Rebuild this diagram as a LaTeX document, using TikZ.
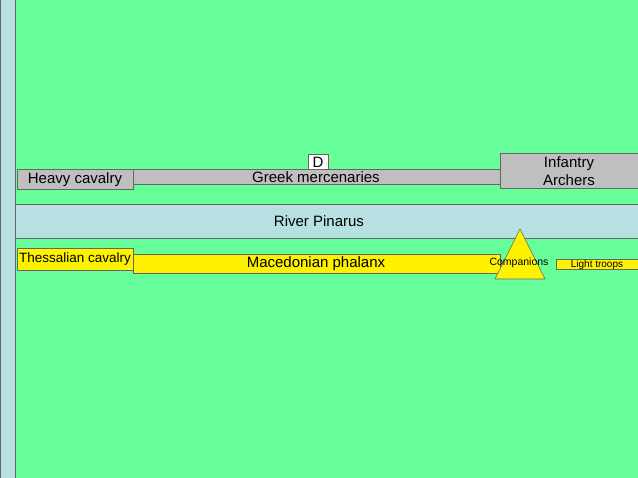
\documentclass[tikz,border=0pt]{standalone}
\usepackage{fontspec}
\setmainfont{Liberation Sans}
\begin{document}
\begin{tikzpicture}[x=1pt,y=-1pt,
  box/.style={draw=black!60,line width=0.6pt},
  gray/.style={box,fill=black!25},
  yel/.style={box,fill=yellow},
  lbl/.style={inner sep=0pt,font=\fontsize{15}{17}\selectfont}]
\fill[fill={rgb,255:red,102;green,255;blue,153}] (0,0) rectangle (638,478);
\useasboundingbox (0,0) rectangle (638,478);
\definecolor{river}{RGB}{183,224,226}
\draw[box,fill=river] (0,-1) rectangle (15,479);
\draw[box,fill=river] (15,204) rectangle (639,238);
\node[lbl] (river) at (319,221) {River Pinarus};
% top
\draw[gray] (133,169) rectangle (500,184);
\node[lbl] (greek) at (316,177) {Greek mercenaries};
\draw[gray] (17,169) rectangle (133,189);
\node[lbl] (heavy) at (75,180) {Heavy cavalry};
\draw[box,fill=white] (308,154) rectangle (328,169);
\node[lbl] (d) at (318,162) {D};
\draw[gray] (500,153) rectangle (639,188);
\node[lbl,align=center] (inf) at (569,171) {Infantry\\[1pt]Archers};
% bottom
\draw[yel] (133,254) rectangle (500,273);
\node[lbl] (phal) at (316,264) {Macedonian phalanx};
\draw[yel] (17,248) rectangle (133,270);
\node[lbl,font=\fontsize{13.5}{15}\selectfont] (thes) at (75,259) {Thessalian cavalry};
\draw[yel] (520,229) -- (545,279) -- (495,279) -- cycle;
\node[lbl,font=\fontsize{10.5}{12}\selectfont] (comp) at (519,263) {Companions};
\draw[yel] (556,259) rectangle (639,269);
\node[lbl,font=\fontsize{10}{12}\selectfont] (light) at (597,264.5) {Light troops};
\end{tikzpicture}
\end{document}
